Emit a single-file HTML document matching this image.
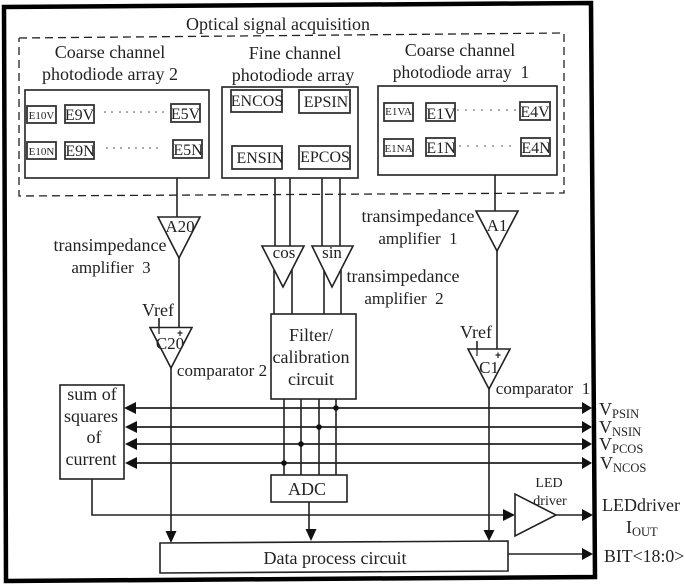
<!DOCTYPE html>
<html><head><meta charset="utf-8">
<style>
html,body{margin:0;padding:0;background:#fff;width:685px;height:584px;overflow:hidden}
svg{display:block;filter:blur(.35px)}
text{font-family:"Liberation Serif",serif;fill:#222;font-size:18px;white-space:pre}
.b{fill:#fff;stroke:#222;stroke-width:1.6}
.s{fill:#fff;stroke:#333;stroke-width:1.8}
.w{fill:none;stroke:#222;stroke-width:1.6}
.h{fill:#111;stroke:none}
.m{text-anchor:middle}
.t{font-size:11px;text-anchor:middle}
.e{font-size:16px;text-anchor:middle}
.f{font-size:17px;text-anchor:middle}
.d{fill:#444;stroke:none}
</style></head><body>
<svg width="685" height="584" viewBox="0 0 685 584" xmlns="http://www.w3.org/2000/svg">
<polygon points="4,7 591,3 595,577 6,581" fill="#fff" stroke="#000" stroke-width="4.5"/>
<polyline points="19,38 564,33 564,193 19,196 19,38" fill="none" stroke="#222" stroke-width="1.3" stroke-dasharray="8 5"/>

<text x="278" y="30" class="m">Optical signal acquisition</text>
<text x="110" y="58" class="m">Coarse channel</text>
<text x="110" y="80" class="m">photodiode array 2</text>
<text x="295" y="59" class="m">Fine channel</text>
<text x="293" y="81" class="m">photodiode array</text>
<text x="460" y="56" class="m">Coarse channel</text>
<text x="461" y="78" class="m" style="font-size:17.500px">photodiode array  1</text>

<!-- wires -->
<path class="w" d="M177 178V218M179 257V328M171 367V532M275 178V247M290 178V247M322 178V247M340 178V247M274 270V315M292 270V315M324 270V315M341 270V315M284 398V476M301 398V476M319 398V476M336 398V476M495 175V212M497 250V350M489 388V532M159 318V328M477 341V350M92 478V515H505M309 502V530M556 515H583M508 554H583"/>
<path class="w" style="stroke-width:1.8" d="M130 408H584M130 427H584M130 444H584M130 463H584"/>

<!-- coarse 2 -->
<rect class="b" x="25" y="90" width="184" height="88"/>
<rect class="s" x="27" y="106" width="29" height="17"/><text x="41.500" y="119" class="t">E10V</text>
<rect class="s" x="65" y="105" width="29" height="18"/><text x="79.500" y="120" class="e">E9V</text>
<rect class="s" x="171" y="104" width="29" height="18"/><text x="185.500" y="119" class="e">E5V</text>
<rect class="s" x="27" y="142" width="29" height="17"/><text x="41.500" y="155" class="t">E10N</text>
<rect class="s" x="65" y="142" width="29" height="17"/><text x="80" y="156" class="e">E9N</text>
<rect class="s" x="173" y="140" width="29" height="18"/><text x="188" y="155" class="e">E5N</text>

<!-- fine -->
<rect class="b" x="222" y="87" width="136" height="91"/>
<rect class="s" x="231" y="90" width="51" height="22"/><text x="257" y="106" class="e">ENCOS</text>
<rect class="s" x="299" y="90" width="51" height="23"/><text x="326" y="107" class="e">EPSIN</text>
<rect class="s" x="232" y="146" width="50" height="23"/><text x="260" y="163" class="e">ENSIN</text>
<rect class="s" x="299" y="146" width="51" height="23"/><text x="325" y="162" class="e">EPCOS</text>

<!-- coarse 1 -->
<rect class="b" x="378" y="86" width="179" height="89"/>
<rect class="s" x="384" y="103" width="29" height="18"/><text x="398.500" y="115" class="t">E1VA</text>
<rect class="s" x="426" y="103" width="29" height="18"/><text x="441" y="119" class="e">E1V</text>
<rect class="s" x="520" y="102" width="30" height="18"/><text x="535" y="117" class="e">E4V</text>
<rect class="s" x="384" y="139" width="29" height="17"/><text x="398.500" y="152" class="t">E1NA</text>
<rect class="s" x="426" y="138" width="29" height="18"/><text x="441" y="153" class="e">E1N</text>
<rect class="s" x="521" y="138" width="29" height="18"/><text x="536" y="153" class="e">E4N</text>

<!-- dotted runs -->
<g class="d">
<circle cx="105" cy="112" r=".8"/><circle cx="112" cy="112" r=".8"/><circle cx="120" cy="112" r=".8"/><circle cx="127" cy="112" r=".8"/><circle cx="134" cy="112" r=".8"/><circle cx="141" cy="112" r=".8"/><circle cx="149" cy="112" r=".8"/><circle cx="156" cy="112" r=".8"/><circle cx="163" cy="112" r=".8"/>
<circle cx="107" cy="148" r=".8"/><circle cx="114" cy="148" r=".8"/><circle cx="121" cy="148" r=".8"/><circle cx="129" cy="148" r=".8"/><circle cx="136" cy="148" r=".8"/><circle cx="143" cy="148" r=".8"/><circle cx="150" cy="148" r=".8"/><circle cx="157" cy="148" r=".8"/>
<circle cx="458" cy="110" r=".8"/><circle cx="466" cy="110" r=".8"/><circle cx="474" cy="110" r=".8"/><circle cx="482" cy="110" r=".8"/><circle cx="491" cy="110" r=".8"/><circle cx="499" cy="110" r=".8"/><circle cx="507" cy="110" r=".8"/><circle cx="515" cy="110" r=".8"/>
<circle cx="460" cy="146" r=".8"/><circle cx="468" cy="146" r=".8"/><circle cx="477" cy="146" r=".8"/><circle cx="485" cy="146" r=".8"/><circle cx="493" cy="146" r=".8"/><circle cx="502" cy="146" r=".8"/><circle cx="510" cy="146" r=".8"/>
</g>

<!-- amplifiers -->
<polygon class="b" points="158,217 200,217 179,258"/><text x="180" y="232" class="f">A20</text>
<polygon class="b" points="262,246 304,246 283,287"/><text x="284" y="258" class="f">cos</text>
<polygon class="b" points="312,246 353,246 332,287"/><text x="332" y="258" class="f">sin</text>
<polygon class="b" points="476,211 518,211 497,251"/><text x="497" y="231" class="f">A1</text>
<polygon class="b" points="150,327.500 192,327.500 171,368"/><text x="170" y="349" class="f">C20</text>
<polygon class="b" points="468,349 510,349 489,389"/><text x="489" y="373" class="f">C1</text>
<path class="w" style="stroke-width:1.2" d="M159 328V334M177.500 333H182.500M180 330.500V336M477 349V356M495.500 355H500.500M498 352.500V358"/>

<text x="110" y="251" class="m">transimpedance</text>
<text x="111" y="273" class="f">amplifier  3</text>
<text x="418" y="222" class="m">transimpedance</text>
<text x="418" y="244" class="f">amplifier  1</text>
<text x="403" y="282" class="m">transimpedance</text>
<text x="404" y="304" class="f">amplifier  2</text>
<text x="158" y="316" class="m">Vref</text>
<text x="476" y="338" class="m">Vref</text>
<text x="222" y="376" class="f">comparator 2</text>
<text x="543" y="394" class="f">comparator  1</text>

<!-- filter, adc, sum, data -->
<rect class="b" x="271" y="314" width="85" height="85"/>
<text x="311" y="341" class="m">Filter/</text>
<text x="311" y="363" class="m">calibration</text>
<text x="311" y="385" class="m">circuit</text>
<rect class="b" x="271" y="475" width="76" height="27"/>
<text x="307" y="495" class="m">ADC</text>
<rect class="b" x="60" y="385" width="64" height="94"/>
<text x="92" y="400" class="m">sum of</text>
<text x="91" y="422" class="m">squares</text>
<text x="94" y="443" class="m">of</text>
<text x="91" y="465" class="m">current</text>
<polygon class="b" points="160,543 508,541 508,571 160,573"/>
<text x="335" y="564" class="m">Data process circuit</text>
<polygon class="b" points="515,494 515,536 556,515"/>
<text x="549" y="487" class="m" style="font-size:14px">LED</text>
<text x="550" y="505" class="m" style="font-size:14px">driver</text>

<!-- arrowheads -->
<path class="h" d="M124 408L136 402V414ZM125 427L137 421V433ZM125 444L137 438V450ZM125 463L137 457V469Z"/>
<path class="h" d="M592 408L582 402V414ZM592 427L582 421V433ZM592 444L582 438V450ZM592 463L582 457V469Z"/>
<path class="h" d="M515 515L503 509V521ZM593 515L582 509V521ZM593 554L582 548V560Z"/>
<path class="h" d="M171 543L165.500 531H176.500ZM311 541L305.500 529H316.500ZM489 541L483.500 530H494.500Z"/>
<circle class="h" cx="284" cy="463" r="2.800"/><circle class="h" cx="301" cy="444" r="2.800"/><circle class="h" cx="319" cy="427" r="2.800"/><circle class="h" cx="336" cy="408" r="2.800"/>

<!-- right labels -->
<text x="599" y="415">V<tspan dy="3" style="font-size:12.500px">PSIN</tspan></text>
<text x="599" y="433">V<tspan dy="3" style="font-size:12.500px">NSIN</tspan></text>
<text x="599" y="450">V<tspan dy="3" style="font-size:12.500px">PCOS</tspan></text>
<text x="600" y="469">V<tspan dy="3" style="font-size:12.500px">NCOS</tspan></text>
<text x="602" y="511">LEDdriver</text>
<text x="626" y="533">I<tspan dy="3" style="font-size:12.500px">OUT</tspan></text>
<text x="604" y="562" style="font-size:17.800px">BIT&lt;18:0&gt;</text>
</svg>
</body></html>
